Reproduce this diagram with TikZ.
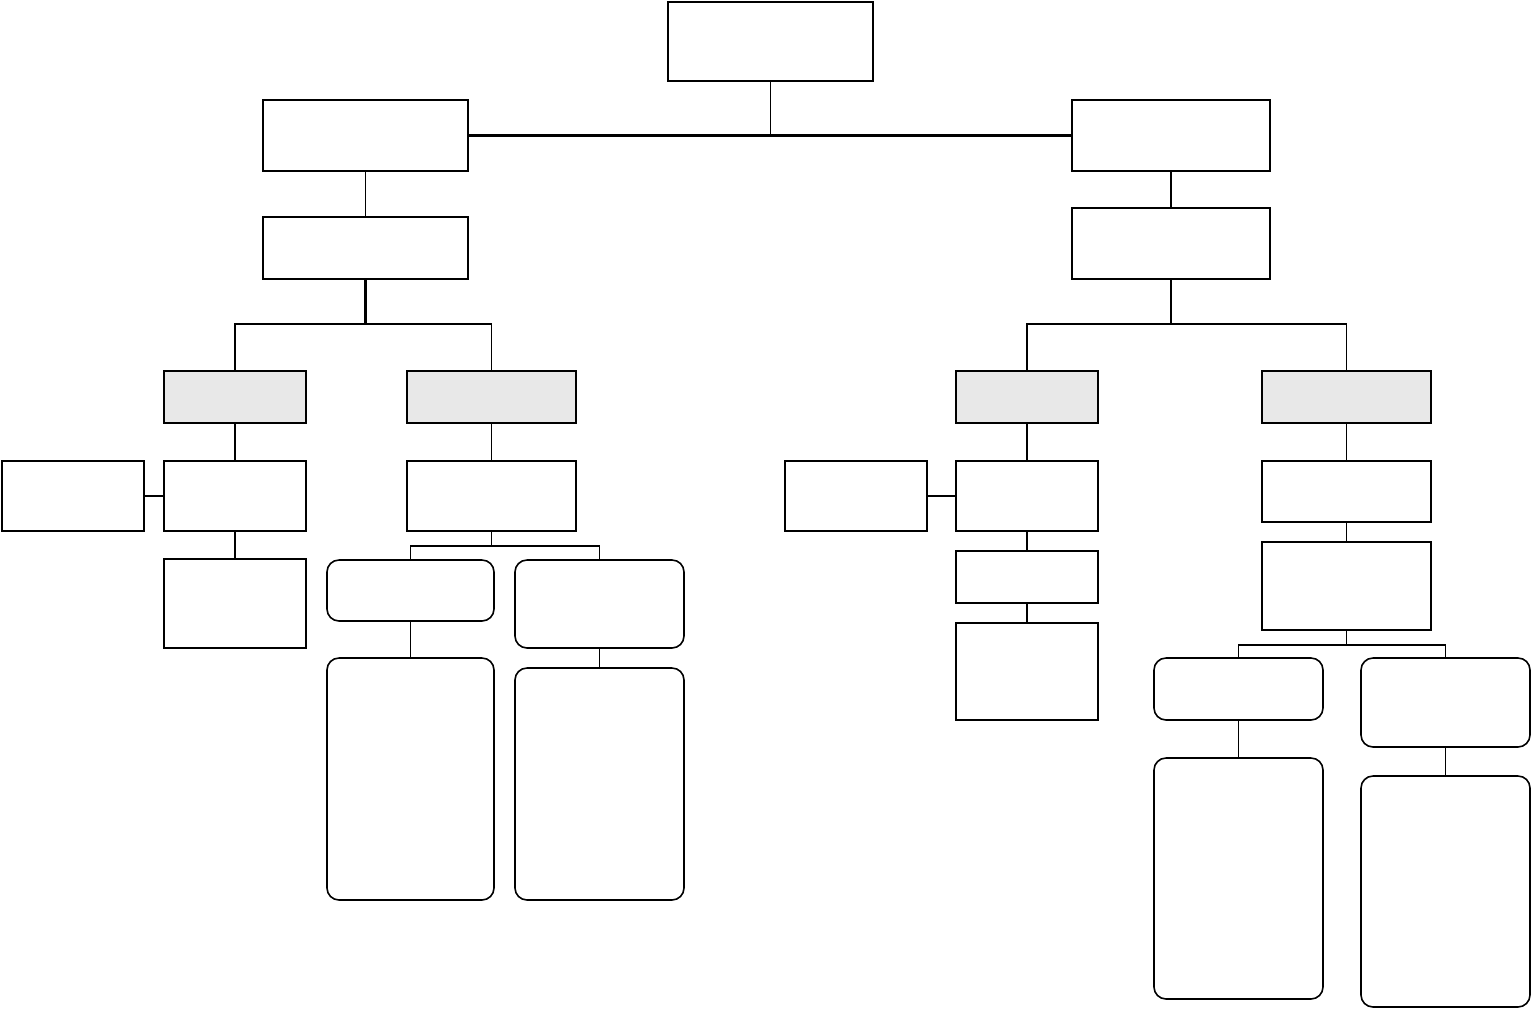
\documentclass[tikz,border=0pt]{standalone}
\usepackage{tikz}
\usetikzlibrary{positioning}
\definecolor{boxgrey}{HTML}{E8E8E8}

\begin{document}
\begin{tikzpicture}[x=0.5pt, y=-0.5pt,
    block/.style={draw, line width=1pt, inner sep=0pt, outer sep=0pt},
    shaded/.style={block, fill=boxgrey},
    soft/.style={draw, line width=0.8pt, rounded corners=6pt, inner sep=0pt, outer sep=0pt},
    heavy/.style={line width=1.3pt},
    light/.style={line width=0.6pt}]
    \useasboundingbox (0,0) rectangle (1531,1009);

    % Top levels
    \node[block, minimum width=102.5pt, minimum height=39.5pt] (root) at (770.5,41.5) {};
    \node[block, minimum width=102.5pt, minimum height=35.5pt] (l1) at (365.5,135.5) {};
    \node[block, minimum width=99pt, minimum height=35.5pt] (r1) at (1171,135.5) {};
    \node[block, minimum width=102.5pt, minimum height=31pt] (l2) at (365.5,248) {};
    \node[block, minimum width=99pt, minimum height=35.5pt] (r2) at (1171,243.5) {};

    % Grey row
    \node[shaded, minimum width=71pt, minimum height=26pt] (la) at (235,397) {};
    \node[shaded, minimum width=84.5pt, minimum height=26pt] (lb) at (491.5,397) {};
    \node[shaded, minimum width=71pt, minimum height=26pt] (ra) at (1027,397) {};
    \node[shaded, minimum width=84.5pt, minimum height=26pt] (rb) at (1346.5,397) {};

    % Left branch
    \node[block, minimum width=71pt, minimum height=35pt] (ls) at (73,496) {};
    \node[block, minimum width=71pt, minimum height=35pt] (la1) at (235,496) {};
    \node[block, minimum width=71pt, minimum height=44.5pt] (la2) at (235,603.5) {};
    \node[block, minimum width=84.5pt, minimum height=35pt] (lb1) at (491.5,496) {};
    \node[soft, minimum width=83.5pt, minimum height=30.5pt] (lb2a) at (410.5,590.5) {};
    \node[soft, minimum width=84.5pt, minimum height=44pt] (lb2b) at (599.5,604) {};
    \node[soft, minimum width=83.5pt, minimum height=121pt] (lb3a) at (410.5,779) {};
    \node[soft, minimum width=84.5pt, minimum height=116pt] (lb3b) at (599.5,784) {};

    % Right branch
    \node[block, minimum width=71pt, minimum height=35pt] (rs) at (856,496) {};
    \node[block, minimum width=71pt, minimum height=35pt] (ra1) at (1027,496) {};
    \node[block, minimum width=71pt, minimum height=26pt] (ra2) at (1027,577) {};
    \node[block, minimum width=71pt, minimum height=48.5pt] (ra3) at (1027,671.5) {};
    \node[block, minimum width=84.5pt, minimum height=30.5pt] (rb1) at (1346.5,491.5) {};
    \node[block, minimum width=84.5pt, minimum height=44pt] (rb2) at (1346.5,586) {};
    \node[soft, minimum width=84.5pt, minimum height=31pt] (rb3a) at (1238.5,689) {};
    \node[soft, minimum width=84.5pt, minimum height=44.5pt] (rb3b) at (1445.5,702.5) {};
    \node[soft, minimum width=84.5pt, minimum height=120.5pt] (rb4a) at (1238.5,878.5) {};
    \node[soft, minimum width=84.5pt, minimum height=115.5pt] (rb4b) at (1445.5,891.5) {};

    % Forks
    \coordinate (top) at (root.south |- l1.east);
    \coordinate (lfork) at (365.5,324);
    \coordinate (rfork) at (1171,324);
    \coordinate (lbfork) at (491.5,546);
    \coordinate (rbfork) at (1346.5,645);

    % Heavy links
    \draw[heavy] (l1.east) -- (r1.west);
    \draw[heavy] (r1.south) -- (r2.north);
    \draw[heavy] (l2.south) -- (lfork);
    \draw[heavy] (la.north) |- (lfork) -- (lfork -| lb.north);
    \draw[heavy] (r2.south) -- (rfork);
    \draw[heavy] (ra.north) |- (rfork) -- (rfork -| rb.north);
    \draw[heavy] (la.south) -- (la1.north);
    \draw[heavy] (la1.south) -- (la2.north);
    \draw[heavy] (ls.east) -- (la1.west);
    \draw[heavy] (ra.south) -- (ra1.north);
    \draw[heavy] (ra1.south) -- (ra2.north);
    \draw[heavy] (ra2.south) -- (ra3.north);
    \draw[heavy] (rs.east) -- (ra1.west);

    % Light links
    \draw[light] (root.south) -- (top);
    \draw[light] (l1.south) -- (l2.north);
    \draw[light] (lfork -| lb.north) -- (lb.north);
    \draw[light] (rfork -| rb.north) -- (rb.north);
    \draw[light] (lb.south) -- (lb1.north);
    \draw[light] (lb1.south) -- (lbfork);
    \draw[light] (lb2a.north) |- (lbfork) -| (lb2b.north);
    \draw[light] (lb2a.south) -- (lb3a.north);
    \draw[light] (lb2b.south) -- (lb3b.north);
    \draw[light] (rb.south) -- (rb1.north);
    \draw[light] (rb1.south) -- (rb2.north);
    \draw[light] (rb2.south) -- (rbfork);
    \draw[light] (rb3a.north) |- (rbfork) -| (rb3b.north);
    \draw[light] (rb3a.south) -- (rb4a.north);
    \draw[light] (rb3b.south) -- (rb4b.north);
\end{tikzpicture}
\end{document}
